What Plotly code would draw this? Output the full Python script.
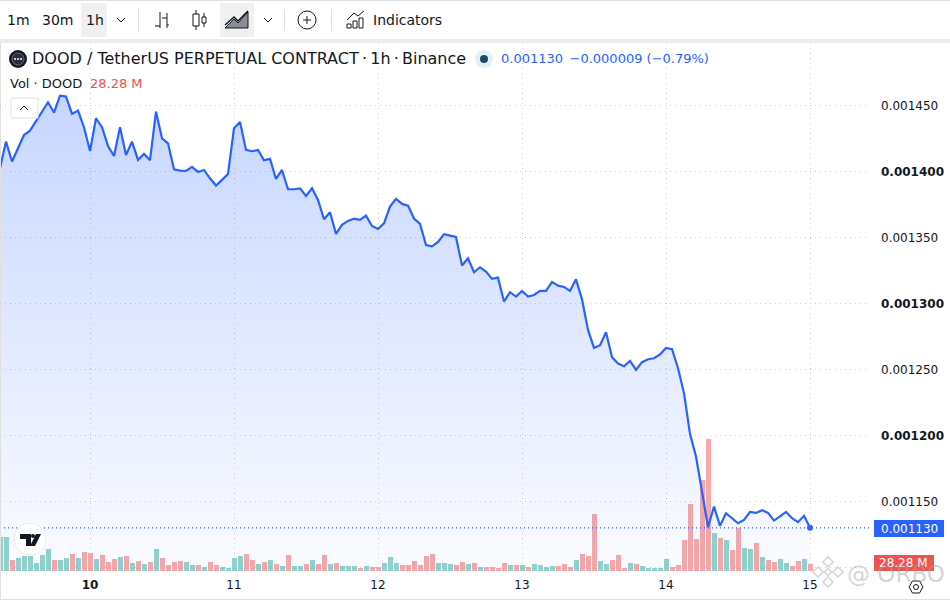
import plotly.graph_objects as go

# hours counted from the "10" day tick, one point per hour
hours = list(range(-15, 121))
day_ticks = [0, 24, 48, 72, 96, 120]
day_labels = ["<b>10</b>", "11", "12", "13", "14", "15"]

# close prices, in millionths
close_e6 = [
    1402.4, 1422.6, 1407.5, 1417.5, 1427.6, 1430.9, 1437.8, 1444.6, 1452.4, 1444.6,
    1457.4, 1456.7, 1443.6, 1446.1, 1433.5, 1415.5, 1440.3, 1433.5, 1419.3, 1411.7,
    1433.5, 1412.5, 1422.6, 1408.7, 1413.3, 1408.5, 1445.3, 1425.1, 1421.3, 1401.6,
    1400.6, 1400.4, 1403.4, 1399.6, 1401.1, 1394.8, 1389.3, 1393.6, 1398.1, 1432.7,
    1437.5, 1416.3, 1415.3, 1416.3, 1408.5, 1409.5, 1394.3, 1401.1, 1386.5, 1386.5,
    1387.2, 1381.4, 1387.2, 1378.4, 1363.8, 1369.1, 1352.7, 1359.5, 1362.5, 1364.3,
    1363.3, 1366.5, 1358.7, 1356.4, 1360.7, 1373.4, 1379.2, 1375.4, 1374.1, 1364.3,
    1360.2, 1344.3, 1343.3, 1346.6, 1352.4, 1351.4, 1350.4, 1328.7, 1334.2, 1323.6,
    1327.4, 1324.1, 1318.6, 1319.6, 1301.4, 1308.5, 1305.2, 1309.5, 1305.2, 1306.4,
    1309.5, 1309.5, 1316.3, 1313.5, 1312.5, 1309.5, 1318.3, 1303.1, 1279.9,
    1266.3, 1268.3, 1278.2, 1259.2, 1254.4, 1252.4, 1256.5, 1249.6, 1255.5, 1257.7,
    1258.5, 1261.3, 1266.3, 1265.3, 1250.9, 1232.0, 1201.2, 1184.0, 1157.5, 1130.5,
    1146.1, 1131.5, 1141.1, 1137.3, 1133.5, 1136.0, 1142.1, 1141.3, 1143.4, 1141.3,
    1135.5, 1138.6, 1142.1, 1137.3, 1134.3, 1139.1, 1130.0,
]

# volume in millions
volumes = [
    142.1, 142.1, 45.0, 53.5, 61.9, 61.9, 32.4, 66.1, 91.5, 45.0,
    45.0, 53.5, 70.4, 53.5, 78.8, 74.6, 49.2, 66.1, 36.6, 49.2,
    57.7, 61.9, 32.4, 40.8, 28.1, 36.6, 91.5, 53.5, 23.9, 36.6,
    40.8, 36.6, 23.9, 23.9, 15.5, 36.6, 23.9, 15.5, 11.3, 53.5,
    61.9, 70.4, 45.0, 28.1, 36.6, 45.0, 28.1, 19.7, 66.1, 19.7,
    19.7, 28.1, 45.0, 28.1,
    66.1, 28.1, 32.4, 19.7, 19.7, 19.7, 11.3, 19.7, 15.5, 15.5,
    32.4, 57.7, 32.4, 23.9, 23.9, 40.8, 23.9, 61.9, 70.4, 32.4,
    32.4, 28.1, 23.9, 36.6, 28.1, 32.4, 15.5, 15.5, 15.5, 11.3,
    32.4, 23.9, 23.9, 23.9, 15.5, 28.1, 23.9, 15.5, 19.7, 19.7,
    28.1, 15.5, 45.0, 70.4, 61.9, 239.2, 40.8, 28.1, 45.0, 66.1,
    11.3, 32.4, 28.1,
    19.7, 11.3, 11.3, 11.3, 49.2, 15.5, 23.9, 129.4, 281.4, 133.7,
    382.7, 555.8, 159.0, 137.9, 129.4, 87.2, 182.9, 95.7, 91.5, 116.8,
    57.7, 45.0, 36.6, 49.2, 32.4, 19.7, 40.8, 49.2, 28.28,
]

# 1 = teal bar, 0 = red bar
vol_up = [
    1, 1, 0, 1, 1, 1, 1, 1, 1, 0,
    1, 1, 0, 1, 0, 0, 1, 0, 0, 0,
    1, 0, 1, 0, 1, 0, 1, 0, 0, 0,
    0, 1, 1, 0, 1, 0, 0, 1, 1, 1,
    1, 0, 0, 1, 0, 1, 0, 1, 0, 1,
    1, 0, 1, 0,
    0, 1, 0, 1, 1, 1, 0, 1, 0, 0,
    1, 1, 1, 0, 0, 0, 0, 0, 0, 1,
    1, 1, 0, 0, 1, 0, 1, 0, 0, 0,
    0, 1, 0, 1, 0, 1, 1, 1, 1, 0,
    0, 0, 1, 0, 0, 0, 1, 1, 0, 0,
    0, 1, 0,
    1, 1, 1, 1, 1, 0, 0, 0, 0, 0,
    0, 0, 1, 0, 1, 0, 0, 1, 1, 0,
    1, 0, 0, 1, 1, 0, 0, 1, 0,
]

price_ticks_e6 = [1450, 1400, 1350, 1300, 1250, 1200, 1150, 1100]
price_labels = ["0.001450", "<b>0.001400</b>", "0.001350", "<b>0.001300</b>",
                "0.001250", "<b>0.001200</b>", "0.001150", ""]

assert len(hours) == len(close_e6) == len(volumes) == len(vol_up)

close = [v * 1e-6 for v in close_e6]
price_ticks = [v * 1e-6 for v in price_ticks_e6]

BLUE = "#2962ff"
TEAL = "#92d3cb"
RED = "#f8a8a8"
FONT = "DejaVu Sans"
GRID = "#d0d0d0"
ML, MR, MT, MB = 0, 80, 43, 29
PW = 950 - ML - MR
PH = 600 - MT - MB


# page pixels to paper coordinates, for everything drawn around the chart
def px(x):
    return (x - ML) / PW


def py(y):
    return 1 - (y - MT) / PH


def path(points, close_it=False):
    s = "M " + " L ".join(f"{px(x):.5f},{py(y):.5f}" for x, y in points)
    return s + (" Z" if close_it else "")


fig = go.Figure()

# 6px per hour: 5px wide bars, sitting half a pixel right of the hour
fig.add_trace(go.Bar(
    x=hours, y=volumes, width=0.83, offset=-0.33, yaxis="y",
    marker=dict(color=[TEAL if u else RED for u in vol_up], line_width=0),
    hoverinfo="skip", showlegend=False))

fig.add_trace(go.Scatter(
    x=hours, y=close, yaxis="y2", mode="lines",
    line=dict(color=BLUE, width=2.2),
    fill="tozeroy",
    fillgradient=dict(
        type="vertical", start=max(close), stop=1097e-6,
        colorscale=[[0, "rgba(41,98,255,0.26)"], [1, "rgba(41,98,255,0.02)"]]),
    hoverinfo="skip", showlegend=False))

fig.add_trace(go.Scatter(
    x=hours[-1:], y=close[-1:], yaxis="y2", mode="markers",
    marker=dict(color=BLUE, size=6), hoverinfo="skip", showlegend=False))

shapes = []
annos = []


def text(x, y, s, size=13, color="#131722", anchor="left"):
    # annotations sit about 1px right of the asked position when left anchored
    if anchor == "left":
        x = x - 1
    annos.append(dict(xref="paper", yref="paper", x=px(x), y=py(y), text=s,
                      showarrow=False, xanchor=anchor, yanchor="middle", borderpad=0,
                      font=dict(family=FONT, size=size, color=color)))


def rect(x0, y0, x1, y1, fill, line=None):
    shapes.append(dict(type="rect", xref="paper", yref="paper",
                       x0=px(x0), y0=py(y0), x1=px(x1), y1=py(y1),
                       fillcolor=fill, line=dict(color=line or fill, width=1 if line else 0),
                       layer="above"))


def circle(cx, cy, r, fill="rgba(0,0,0,0)", line=None, width=1):
    shapes.append(dict(type="circle", xref="paper", yref="paper",
                       x0=px(cx - r), y0=py(cy - r), x1=px(cx + r), y1=py(cy + r),
                       fillcolor=fill, line=dict(color=line or fill, width=width if line else 0),
                       layer="above"))


def poly(points, color="#131722", width=1, fill=None):
    shapes.append(dict(type="path", xref="paper", yref="paper",
                       path=path(points, fill is not None),
                       fillcolor=fill or "rgba(0,0,0,0)",
                       line=dict(color=color, width=width), layer="above"))


# last price dotted line
shapes.append(dict(type="line", xref="paper", yref="y2", x0=0, x1=1,
                   y0=close[-1], y1=close[-1], layer="above",
                   line=dict(color=BLUE, width=1.2, dash="1px,3px")))

# toolbar
rect(0, 0, 950, 1, "#e0e0e0")
rect(0, 39, 950, 43, "#ececec")
rect(0, 599, 950, 600, "#e0e0e0")
rect(0, 43, 1, 600, "#e0e0e0")
rect(81, 3, 107, 37, "#f0f0f0")
rect(220, 3, 254, 37, "#f0f0f0")
text(7, 20, "1m", 14)
text(42, 20, "30m", 14)
text(86, 20, "1h", 14)
for cx in (121, 268):
    poly([(cx - 4, 18), (cx, 22), (cx + 4, 18)])
for sx in (138, 284, 331):
    rect(sx, 9, sx + 1, 31, "#e0e0e0")
# bar icon
poly([(160, 12), (160, 28)])
poly([(155, 26), (160, 26)])
poly([(167, 13), (167, 28)])
poly([(162, 18), (167, 18)])
poly([(167, 25), (169, 25)])
# candle icon
poly([(196, 10), (196, 30)])
rect(193, 14, 199, 26, "#ffffff", "#131722")
poly([(204, 13), (204, 27)])
rect(202, 17, 206, 23, "#ffffff", "#131722")
# area icon
poly([(225, 28), (234, 19), (238, 23), (248, 12), (248, 28)], "#131722", 1, "#8a8d96")
poly([(225, 25), (234, 17), (238, 21), (248, 11)], "#131722", 1.5)
# plus
circle(307, 20, 9, line="#131722")
poly([(303, 20), (311, 20)])
poly([(307, 16), (307, 24)])
# indicators icon
poly([(347, 20), (354, 13), (358, 16), (364, 11)])
rect(347, 24, 351, 28, "#ffffff", "#131722")
rect(353, 21, 357, 28, "#ffffff", "#131722")
rect(359, 18, 363, 28, "#ffffff", "#131722")
text(373, 20, "Indicators", 14)

# legend rows
circle(18, 59, 9, "#131722")
circle(18, 59, 6, "#2a2e39", "#6a6d78")
for dx in (15, 18, 21):
    circle(dx, 59, 1, "#ffffff")
text(32, 59, "DOOD / TetherUS PERPETUAL CONTRACT\u2009·\u20091h\u2009·\u2009Binance", 16)
circle(484, 59, 9, "#e0f0f4")
circle(484, 59, 4, "#1c4a66")
text(501, 59, "0.001130\u2002−0.000009 (−0.79%)", 13, BLUE)
text(10, 83, "Vol · DOOD", 13)
text(90, 83, "28.28 M", 13, "#ef5350")
rect(11, 98, 38, 118, "#ffffff", "#e0e0e0")
poly([(20, 110), (24, 106), (28, 110)])

# TV logo
circle(30, 539, 16, "#ffffff", "#ececec")
poly([(20, 534), (31, 534), (31, 546), (26, 546), (26, 539), (20, 539)], "#131722", 0, "#131722")
circle(33, 536, 2, "#131722")
poly([(36, 534), (41, 534), (35, 546), (30, 546)], "#131722", 0, "#131722")

# price scale labels
rect(874, 520, 944, 537, BLUE)
text(909, 528.5, "0.001130", 12, "#ffffff", "center")
rect(874, 555, 934, 571, "#ef5350")
text(904, 563, "28.28 M", 12, "#ffffff", "center")

# settings icon
poly([(909, 587), (912.5, 581), (919.5, 581), (923, 587), (919.5, 593), (912.5, 593)],
     "#131722", 1, "#ffffff")
circle(916, 587, 2.5, "#ffffff", "#131722")

# watermark
WM = "rgba(160,160,160,0.45)"
for cx, cy, r in [(828, 562, 5), (818, 572, 5), (838, 572, 5), (828, 582, 5), (828, 572, 3.5)]:
    poly([(cx, cy - r), (cx + r, cy), (cx, cy + r), (cx - r, cy)], WM, 1.5,
         "rgba(255,255,255,0.5)")
text(847, 574, "@ ORBO", 23, WM)

fig.update_layout(
    width=950, height=600,
    margin=dict(l=ML, r=MR, t=MT, b=MB, autoexpand=False),
    paper_bgcolor="#ffffff", plot_bgcolor="#ffffff",
    bargap=0, showlegend=False,
    font=dict(family=FONT, size=12, color="#131722"),
    xaxis=dict(
        range=[-15, 130], tickmode="array", tickvals=day_ticks, ticktext=day_labels,
        showgrid=True, gridcolor=GRID, griddash="1px,4px", gridwidth=1,
        zeroline=False, showline=False, ticks="", tickfont=dict(size=12), ticklabelstandoff=5),
    # 528 px of plot height, volume pane scale 4.22 M per px
    yaxis=dict(range=[0, 2228], visible=False, fixedrange=True),
    yaxis2=dict(
        overlaying="y", side="right", range=[1097.3e-6, 1497.3e-6],
        tickmode="array", tickvals=price_ticks, ticktext=price_labels,
        showgrid=True, gridcolor=GRID, griddash="1px,4px", gridwidth=1,
        zeroline=False, showline=False, ticks="", tickfont=dict(size=12), ticklabelstandoff=10),
    shapes=shapes, annotations=annos,
)

# the page's default body margin would push the chart 8px off
fig.write_html("out.html", config=dict(displayModeBar=False),
               post_script="document.body.style.margin='0';")
